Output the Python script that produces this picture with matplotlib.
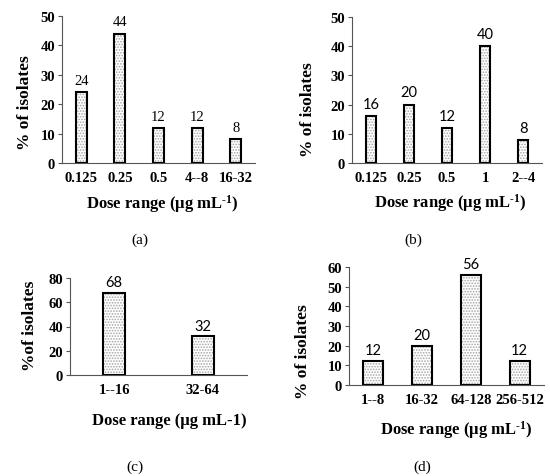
import matplotlib
matplotlib.use("Agg")
from matplotlib import pyplot as plt

# panel data
a_labels = ["0.125", "0.25", "0.5", "4--8", "16-32"]
a_values = [24, 44, 12, 12, 8]
b_labels = ["0.125", "0.25", "0.5", "1", "2--4"]
b_values = [16, 20, 12, 40, 8]
c_labels = ["1--16", "32-64"]
c_values = [68, 32]
d_labels = ["1--8", "16-32", "64-128", "256-512"]
d_values = [12, 20, 56, 12]

plt.rcParams["hatch.linewidth"] = 0.8
plt.rcParams["mathtext.fontset"] = "custom"
plt.rcParams["mathtext.rm"] = "Liberation Serif:bold"
plt.rcParams["mathtext.bf"] = "Liberation Serif:bold"
plt.rcParams["mathtext.it"] = "Liberation Serif:bold"

W, H = 550, 477
fig = plt.figure(figsize=(W / 100, H / 100), dpi=100)

SERIF = "Liberation Serif"
SANS = "Lato"
XLAB = r"Dose range (µg mL$^{\text{-1}}$)"


def make_axes(left, right, top, bottom):
    # pixel box -> figure fraction
    return fig.add_axes([left / W, 1 - bottom / H, (right - left) / W, (bottom - top) / H])


def panel(ax, labels, values, ymax, ystep, width, val_font, ylab, xlab, ylab_xy, xlab_xy):
    x = range(len(labels))
    # stipple fill in grey, then black outline on top
    ax.bar(x, values, width=width, color="white", edgecolor="#a5a5a5",
           linewidth=0, hatch="......")
    ax.bar(x, values, width=width, fill=False, edgecolor="black", linewidth=1.5)
    for xi, v in zip(x, values):
        ax.text(xi, v + ymax * 0.035, str(v), ha="center", va="bottom",
                fontsize=10.5, family=val_font)
    ax.set_xlim(-0.5, len(labels) - 0.5)
    ax.set_ylim(0, ymax)
    ax.set_yticks(range(0, ymax + 1, ystep))
    ax.set_xticks(list(x))
    ax.set_xticklabels(labels, family=SERIF, fontweight="bold", fontsize=10.5)
    for t in ax.get_yticklabels():
        t.set_family(SERIF)
        t.set_fontweight("bold")
        t.set_fontsize(10.5)
    ax.tick_params(axis="x", length=0, pad=6)
    ax.tick_params(axis="y", length=3, width=0.8, pad=2, color="#555555")
    for s in ["top", "right"]:
        ax.spines[s].set_visible(False)
    ax.spines["left"].set_color("#555555")
    ax.spines["bottom"].set_color("#555555")
    ax.set_ylabel(ylab, family=SERIF, fontweight="bold", fontsize=12.5)
    ax.set_xlabel(xlab, family=SERIF, fontweight="bold", fontsize=12)
    ax.yaxis.set_label_coords(*ylab_xy)
    ax.xaxis.set_label_coords(*xlab_xy)


ax_a = make_axes(62, 255, 17, 164)
panel(ax_a, a_labels, a_values, 50, 10, 0.29, SERIF, "% of isolates",
      XLAB, (-0.15, 0.415), (0.52, -0.2))
ax_b = make_axes(352, 542, 18, 164)
panel(ax_b, b_labels, b_values, 50, 10, 0.28, SANS, "% of isolates",
      XLAB, (-0.19, 0.37), (0.52, -0.19))
ax_c = make_axes(70, 247, 279, 376)
panel(ax_c, c_labels, c_values, 80, 20, 0.25, SANS, "%of isolates",
      "Dose range (µg mL-1)", (-0.18, 0.52), (0.56, -0.38))
ax_d = make_axes(349, 544, 268, 386)
panel(ax_d, d_labels, d_values, 60, 10, 0.41, SANS, "% of isolates",
      XLAB, (-0.195, 0.29), (0.55, -0.28))

for lbl, px, py in [("(a)", 140, 240), ("(b)", 413, 240), ("(c)", 135, 467), ("(d)", 422, 467)]:
    fig.text(px / W, 1 - py / H, lbl, ha="center", va="center", family=SERIF, fontsize=11)

fig.savefig("out.png", dpi=100)
